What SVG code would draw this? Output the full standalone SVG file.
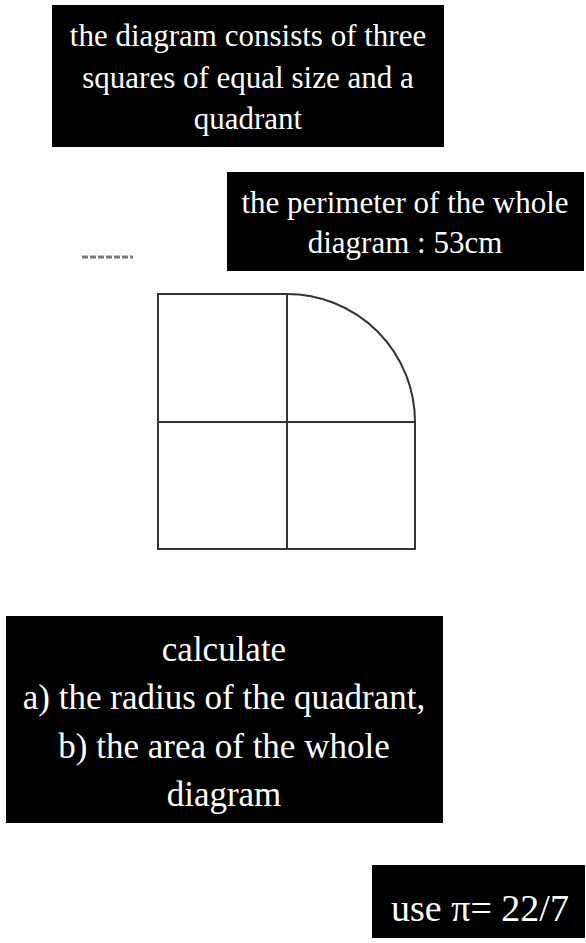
<svg xmlns="http://www.w3.org/2000/svg" width="586" height="943" viewBox="0 0 586 943">
<style>
.box{fill:#000}
.t{fill:#fff;font-family:"Liberation Serif",serif;text-anchor:middle}
.ln{fill:none;stroke:#333;stroke-width:2}
</style>
<rect width="586" height="943" fill="#fff"/>
<g id="note-top">
<rect class="box" x="52" y="5" width="392" height="142"/>
<text class="t" x="248" y="46" font-size="31">the diagram consists of three</text>
<text class="t" x="248" y="88" font-size="31">squares of equal size and a</text>
<text class="t" x="248" y="129" font-size="31">quadrant</text>
</g>
<g id="note-perimeter">
<rect class="box" x="227" y="172" width="357" height="99"/>
<text class="t" x="405" y="213" font-size="31">the perimeter of the whole</text>
<text class="t" x="405" y="253" font-size="31">diagram : 53cm</text>
</g>
<line x1="82" y1="257" x2="133" y2="257" stroke="#444" stroke-width="3" stroke-dasharray="6,2" opacity="0.7"/>
<g id="figure">
<path class="ln" d="M158 294 H287 V549 H158 Z"/>
<path class="ln" d="M158 422 H415 V549 H287"/>
<path class="ln" d="M287 294 A128 128 0 0 1 415 422"/>
</g>
<g id="note-calculate">
<rect class="box" x="6" y="616" width="437" height="207"/>
<text class="t" x="224" y="661" font-size="35">calculate</text>
<text class="t" x="224" y="709" font-size="35">a) the radius of the quadrant,</text>
<text class="t" x="224" y="758" font-size="35">b) the area of the whole</text>
<text class="t" x="224" y="806" font-size="35">diagram</text>
</g>
<g id="note-pi">
<rect class="box" x="372" y="865" width="213" height="73"/>
<text class="t" x="480" y="921" font-size="38">use π= 22/7</text>
</g>
</svg>
